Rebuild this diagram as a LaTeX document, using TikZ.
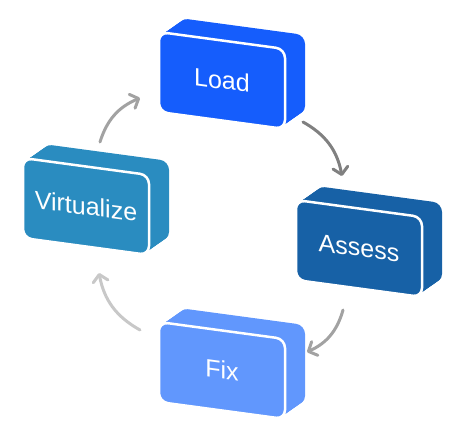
\documentclass[tikz,border=0pt]{standalone}
\usepackage{fontspec}
\setmainfont{Liberation Sans}
\usetikzlibrary{arrows.meta}

\definecolor{loadblue}{RGB}{21,93,252}
\definecolor{assessblue}{RGB}{23,97,166}
\definecolor{virtblue}{RGB}{42,140,192}
\definecolor{fixblue}{RGB}{97,151,253}
\definecolor{arrowdark}{RGB}{128,128,128}
\definecolor{arrowmid}{RGB}{162,162,162}
\definecolor{arrowlight}{RGB}{200,200,200}

\begin{document}
\begin{tikzpicture}[x=1pt,y=-1pt,
        boxtext/.style={text=white,font=\fontsize{25}{30}\selectfont,yslant=-0.135},
        cyclearrow/.style={line width=3pt,line cap=round,
            -{Straight Barb[length=7pt,width=15pt,round]}}]
        \useasboundingbox (0,0) rectangle (458,442);

        % boxes: extruded back part, then the front face
        \foreach \bx/\by/\col/\nm/\txt in {159/32/loadblue/load/Load,
                296/200/assessblue/assess/Assess,
                23/158/virtblue/virt/Virtualize,
                159/322/fixblue/fix/Fix}{
            \foreach \t in {0,1,...,20}
                \fill [\col, rounded corners=9] (\bx+\t,\by-0.7*\t) -- ++(126,17) -- ++(0,80) -- ++(-126,-17) -- cycle;
            \filldraw [fill=\col, draw=white, line width=2.5, rounded corners=9] (\bx,\by) -- ++(126,17) -- ++(0,80) -- ++(-126,-17) -- cycle;
            \node [boxtext] (\nm) at (\bx+63,\by+48) {\txt};
        }

        \coordinate (la1) at (303,122);
        \coordinate (la2) at (342,176);
        \coordinate (af1) at (343,310);
        \coordinate (af2) at (307,352);
        \coordinate (fv1) at (140,330);
        \coordinate (fv2) at (99,273);
        \coordinate (vl1) at (100,142);
        \coordinate (vl2) at (140,98);

        \draw [cyclearrow, arrowdark] (la1) to[bend left=25] (la2);
        \draw [cyclearrow, arrowmid] (af1) to[bend left=25] (af2);
        \draw [cyclearrow, arrowlight] (fv1) to[bend left=25] (fv2);
        \draw [cyclearrow, arrowmid] (vl1) to[bend left=25] (vl2);
    \end{tikzpicture}
\end{document}
